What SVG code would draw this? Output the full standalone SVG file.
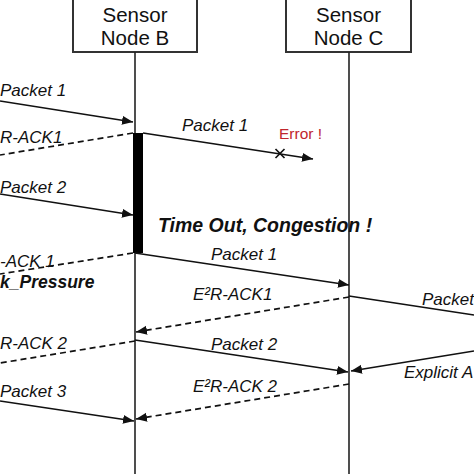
<svg xmlns="http://www.w3.org/2000/svg" width="474" height="474" viewBox="0 0 474 474">
<defs>
<style>
.box{fill:#fff;stroke:#333;stroke-width:2}
.life{stroke:#222;stroke-width:1.6;fill:none}
.msg{stroke:#111;stroke-width:1.7;fill:none}
.dash{stroke:#111;stroke-width:1.7;fill:none;stroke-dasharray:6 4}
.nt{font-family:"Liberation Sans",Arial,sans-serif;font-size:20.5px;fill:#111;text-anchor:middle}
.lb{font-family:"Liberation Sans",Arial,sans-serif;font-size:17px;font-style:italic;fill:#111}
.bd{font-family:"Liberation Sans",Arial,sans-serif;font-style:italic;font-weight:bold;fill:#111}
.err{font-family:"Liberation Sans",Arial,sans-serif;font-size:15.5px;fill:#c0262d}
</style>
<marker id="ah" markerUnits="userSpaceOnUse" markerWidth="12" markerHeight="10" refX="11" refY="4.5" orient="auto">
<path d="M0,0 L11,4.5 L0,9 z" fill="#111"/>
</marker>
</defs>
<rect width="474" height="474" fill="#fff"/>
<g id="nodeB">
<rect class="box" x="73" y="-1" width="124" height="53"/>
<text class="nt" x="135" y="22">Sensor</text>
<text class="nt" x="135" y="45">Node B</text>
<line class="life" x1="135" y1="52" x2="135" y2="474"/>
<rect x="133" y="133" width="10" height="120" fill="#000"/>
</g>
<g id="nodeC">
<rect class="box" x="286" y="-1" width="125" height="53"/>
<text class="nt" x="348.5" y="22">Sensor</text>
<text class="nt" x="348.5" y="45">Node C</text>
<line class="life" x1="349" y1="52" x2="349" y2="474"/>
</g>
<g id="connectors">
<line class="msg" x1="0" y1="101" x2="133" y2="122" marker-end="url(#ah)"/>
<line class="dash" x1="133" y1="133" x2="0" y2="155"/>
<line class="msg" x1="143" y1="133" x2="313" y2="159" marker-end="url(#ah)"/>
<path class="msg" d="M275.5,149 L284.5,158 M284.5,149 L275.5,158"/>
<line class="msg" x1="0" y1="194" x2="133" y2="215" marker-end="url(#ah)"/>
<line class="dash" x1="133" y1="253" x2="0" y2="274"/>
<line class="msg" x1="135" y1="253" x2="349" y2="285" marker-end="url(#ah)"/>
<line class="dash" x1="349" y1="297" x2="136" y2="332" marker-end="url(#ah)"/>
<line class="msg" x1="349" y1="296" x2="474" y2="315"/>
<line class="msg" x1="135" y1="340" x2="348" y2="372" marker-end="url(#ah)"/>
<line class="msg" x1="474" y1="351" x2="351" y2="371" marker-end="url(#ah)"/>
<line class="dash" x1="349" y1="384" x2="136" y2="419" marker-end="url(#ah)"/>
<line class="dash" x1="135" y1="341" x2="0" y2="363"/>
<line class="msg" x1="0" y1="401" x2="134" y2="421" marker-end="url(#ah)"/>
</g>
<g id="labels">
<text class="lb" x="0" y="96">Packet 1</text>
<text class="lb" x="0" y="143">R-ACK1</text>
<text class="lb" x="182" y="131">Packet 1</text>
<text class="err" x="279" y="139">Error !</text>
<text class="lb" x="0" y="193">Packet 2</text>
<text class="bd" x="158" y="232" font-size="19.5">Time Out, Congestion !</text>
<text class="lb" x="0" y="267">-ACK 1</text>
<text class="bd" x="0" y="288" font-size="17.5">k_Pressure</text>
<text class="lb" x="211" y="260">Packet 1</text>
<text class="lb" x="193" y="300">E²R-ACK1</text>
<text class="lb" x="422" y="305">Packet</text>
<text class="lb" x="0" y="349">R-ACK 2</text>
<text class="lb" x="211" y="350">Packet 2</text>
<text class="lb" x="404" y="378">Explicit A</text>
<text class="lb" x="193" y="392">E²R-ACK 2</text>
<text class="lb" x="0" y="397">Packet 3</text>
</g>
</svg>
